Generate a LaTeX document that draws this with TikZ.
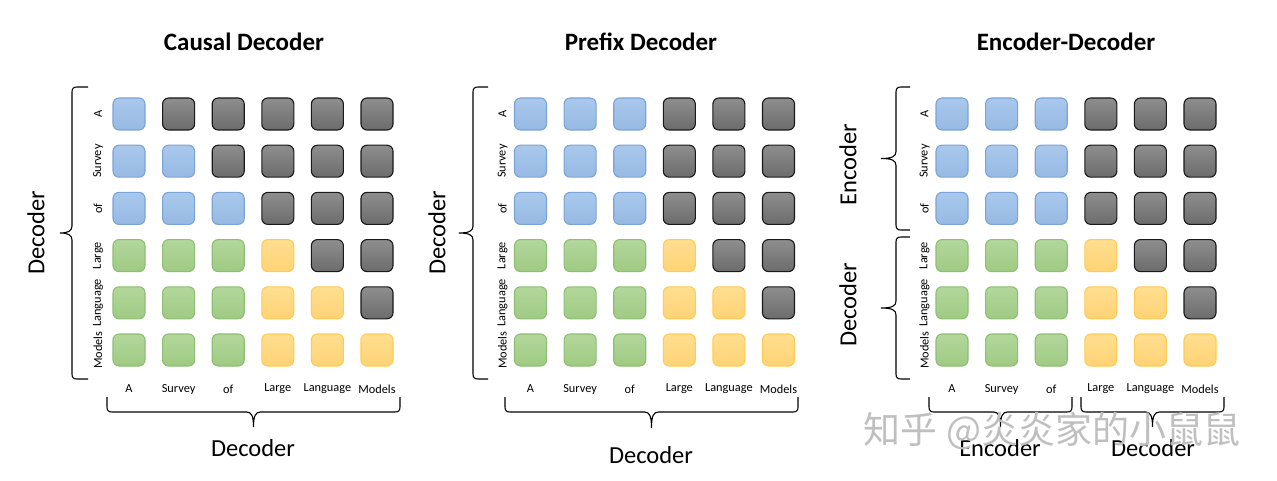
\documentclass[tikz,border=0pt]{standalone}
\usepackage{fontspec}
\setmainfont{Carlito}
\newfontfamily\cjk{Noto Sans CJK SC}
\definecolor{bD}{HTML}{7BA4D6}\definecolor{bT}{HTML}{A9C8EC}\definecolor{bB}{HTML}{96B9E3}
\definecolor{kT}{HTML}{8E8E8E}\definecolor{kB}{HTML}{6C6C6C}
\definecolor{gD}{HTML}{8DBF72}\definecolor{gT}{HTML}{B3D79C}\definecolor{gB}{HTML}{9FCA83}
\definecolor{yD}{HTML}{FFCB52}\definecolor{yT}{HTML}{FFDE90}\definecolor{yB}{HTML}{FFD375}
\tikzset{
  sq/.style={rectangle,rounded corners=6pt,minimum size=32pt,inner sep=0pt,line width=1.1pt},
  sqB/.style={sq,draw=bD,top color=bT,bottom color=bB},
  sqK/.style={sq,draw=black!90,top color=kT,bottom color=kB},
  sqG/.style={sq,draw=gD,top color=gT,bottom color=gB},
  sqY/.style={sq,draw=yD,top color=yT,bottom color=yB},
  rowlab/.style={rotate=90,inner sep=0pt,font=\fontsize{12.3}{14}\selectfont},
  collab/.style={inner sep=0pt,font=\fontsize{12.3}{14}\selectfont},
  ttl/.style={inner sep=0pt,font=\fontsize{25}{30}\selectfont\bfseries},
  biglab/.style={inner sep=0pt,font=\fontsize{24.5}{29}\selectfont},
  brc/.style={draw=black,line width=1.1pt},
  wm/.style={inner sep=0pt,text=black!25,font=\fontsize{37}{42}\cjk}
}
% left brace: #1 x of line, #2 top, #3 bottom, #4 end length, #5 tip length
\newcommand\leftbr[5]{%
  \draw[brc] ({#1+#4},#2) -- ({#1+5},#2) .. controls ({#1+1.5},#2) and (#1,{#2+1.5}) .. (#1,{#2+5})
   -- (#1,{(#2+#3)/2-7}) .. controls (#1,{(#2+#3)/2-2}) and ({#1-4},{(#2+#3)/2}) .. ({#1-#5},{(#2+#3)/2})
   .. controls ({#1-4},{(#2+#3)/2}) and (#1,{(#2+#3)/2+2}) .. (#1,{(#2+#3)/2+7})
   -- (#1,{#3-5}) .. controls (#1,{#3-1.5}) and ({#1+1.5},#3) .. ({#1+5},#3) -- ({#1+#4},#3);}
% bottom brace: #1 y of line, #2 left, #3 right, #4 end length, #5 tip length
\newcommand\downbr[5]{%
  \draw[brc] (#2,{#1-#4}) -- (#2,{#1-5}) .. controls (#2,{#1-1.5}) and ({#2+1.5},#1) .. ({#2+5},#1)
   -- ({(#2+#3)/2-7},#1) .. controls ({(#2+#3)/2-2},#1) and ({(#2+#3)/2},{#1+4}) .. ({(#2+#3)/2},{#1+#5})
   .. controls ({(#2+#3)/2},{#1+4}) and ({(#2+#3)/2+2},#1) .. ({(#2+#3)/2+7},#1)
   -- ({#3-5},#1) .. controls ({#3-1.5},#1) and (#3,{#1-1.5}) .. (#3,{#1-5}) -- (#3,{#1-#4});}
% panel: #1 prefix, #2 x of first column, #3 x of row labels, #4 pattern
\newcommand\panel[4]{%
  \foreach \row [count=\r] in {#4} {
    \foreach \c [count=\k] in \row {
      \node[sq\c] (#1-\r-\k) at ({#2+(\k-1)*49.6},{114+(\r-1)*47.2}) {};
    }
  }
  \foreach \w [count=\r] in {A,Survey,of,Large,Language,Models} {
    \node[rowlab] (#1-rl\r) at (#3,{114+(\r-1)*47.2}) {\w};
    \node[collab] (#1-cl\r) at ({#2+(\r-1)*49.6},389) {\w};
  }
}
\begin{document}
\begin{tikzpicture}[x=1pt,y=-1pt]
\useasboundingbox[fill=white] (0,0) rectangle (1277,481);
% titles
\node[ttl] (t1) at (244,42) {Causal Decoder};
\node[ttl] (t2) at (641,42) {Prefix Decoder};
\node[ttl] (t3) at (1066,42) {Encoder-Decoder};
% panels
\panel{p1}{129}{98}{{B,K,K,K,K,K},{B,B,K,K,K,K},{B,B,B,K,K,K},{G,G,G,Y,K,K},{G,G,G,Y,Y,K},{G,G,G,Y,Y,Y}}
\panel{p2}{530.5}{502.5}{{B,B,B,K,K,K},{B,B,B,K,K,K},{B,B,B,K,K,K},{G,G,G,Y,K,K},{G,G,G,Y,Y,K},{G,G,G,Y,Y,Y}}
\panel{p3}{952}{924.5}{{B,B,B,K,K,K},{B,B,B,K,K,K},{B,B,B,K,K,K},{G,G,G,Y,K,K},{G,G,G,Y,Y,K},{G,G,G,Y,Y,Y}}
% braces
\leftbr{72}{87}{379}{16}{12}
\leftbr{473}{87}{379}{15}{14}
\leftbr{896}{87}{230}{14}{15}
\leftbr{896}{237}{379}{14}{15}
\downbr{412}{107}{400}{15}{15}
\downbr{412}{505}{798}{15}{16}
\downbr{412}{929}{1072}{15}{15}
\downbr{412}{1081}{1224}{15}{15}
% big labels
\node[biglab,rotate=90] (l1) at (36,233) {Decoder};
\node[biglab,rotate=90] (l2) at (437,233) {Decoder};
\node[biglab,rotate=90] (l3) at (848,165) {Encoder};
\node[biglab,rotate=90] (l4) at (848,305) {Decoder};
\node[biglab] (b1) at (253,448) {Decoder};
\node[biglab] (b2) at (651,455) {Decoder};
\node[biglab] (b3) at (1000,448) {Encoder};
\node[biglab] (b4) at (1153,448) {Decoder};
% watermark (printed over the labels, as in the reference)
\node[wm] (wm) at (1052,431) {知乎 @炎炎家的小鼠鼠};
\end{tikzpicture}
\end{document}
